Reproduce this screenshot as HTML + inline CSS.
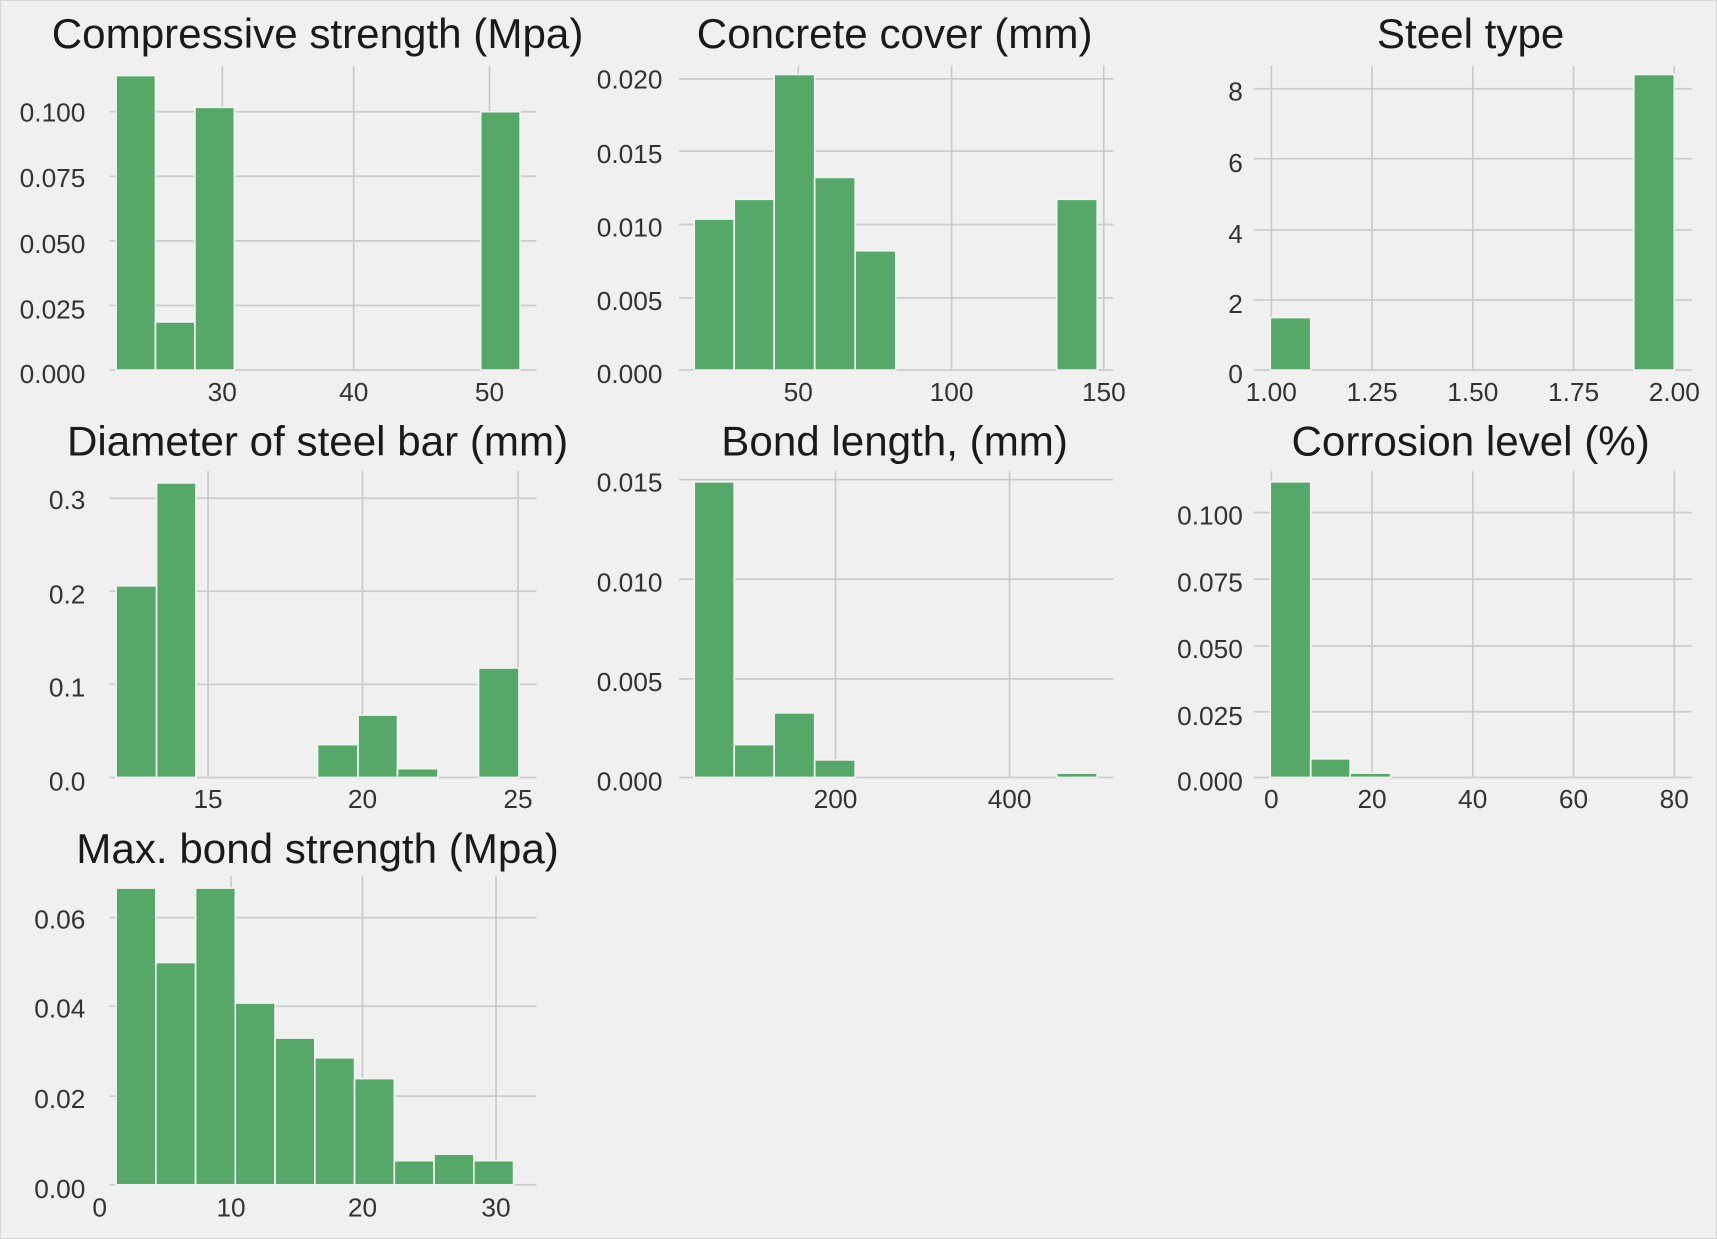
<!DOCTYPE html>
<html><head><meta charset="utf-8"><style>
html,body{margin:0;padding:0;background:#f0f0f0;}
svg{display:block}
text{font-family:"Liberation Sans",sans-serif;}
.t{font-size:38.5px;fill:#1a1a1a;text-anchor:middle}
.y{font-size:24px;fill:#333;text-anchor:end}
.x{font-size:24px;fill:#333;text-anchor:middle}
.g{stroke:#cbcbcb;stroke-width:1.6}
.b{fill:#55a868;stroke:#f4f4f4;stroke-width:1.5}
</style></head><body>
<svg width="1717" height="1239" viewBox="0 0 1568 1131.5" preserveAspectRatio="none">
<rect width="1568" height="1131.5" fill="#f0f0f0"/>
<rect x="0.5" y="0.5" width="1567" height="1130.5" fill="none" stroke="#d8d8d8" stroke-width="1"/>
<!-- Plot 1 -->
<g>
<line class="g" x1="100" x2="490" y1="338" y2="338"/><line class="g" x1="100" x2="490" y1="279" y2="279"/><line class="g" x1="100" x2="490" y1="220" y2="220"/><line class="g" x1="100" x2="490" y1="161" y2="161"/><line class="g" x1="100" x2="490" y1="102" y2="102"/>
<line class="g" x1="203" x2="203" y1="60" y2="338"/><line class="g" x1="323" x2="323" y1="60" y2="338"/><line class="g" x1="447" x2="447" y1="60" y2="338"/>
<rect class="b" x="106" y="69" width="36" height="269"/><rect class="b" x="142" y="294" width="36" height="44"/><rect class="b" x="178" y="98" width="36" height="240"/><rect class="b" x="439" y="102" width="36" height="236"/>
<text class="y" x="78" y="350">0.000</text><text class="y" x="78" y="291">0.025</text><text class="y" x="78" y="231">0.050</text><text class="y" x="78" y="171">0.075</text><text class="y" x="78" y="111">0.100</text>
<text class="x" x="203" y="366">30</text><text class="x" x="323" y="366">40</text><text class="x" x="447" y="366">50</text>
<text class="t" x="290" y="44">Compressive strength (Mpa)</text>
</g>
<!-- Plot 2 -->
<g>
<line class="g" x1="620" x2="1017" y1="338" y2="338"/><line class="g" x1="620" x2="1017" y1="272" y2="272"/><line class="g" x1="620" x2="1017" y1="205" y2="205"/><line class="g" x1="620" x2="1017" y1="138" y2="138"/><line class="g" x1="620" x2="1017" y1="72" y2="72"/>
<line class="g" x1="729" x2="729" y1="60" y2="338"/><line class="g" x1="869" x2="869" y1="60" y2="338"/><line class="g" x1="1008" x2="1008" y1="60" y2="338"/>
<rect class="b" x="634" y="200" width="36.5" height="138"/><rect class="b" x="670.5" y="182" width="36.5" height="156"/><rect class="b" x="707" y="68" width="37" height="270"/><rect class="b" x="744" y="162" width="37" height="176"/><rect class="b" x="781" y="229" width="37" height="109"/><rect class="b" x="965" y="182" width="37" height="156"/>
<text class="y" x="605" y="350">0.000</text><text class="y" x="605" y="283">0.005</text><text class="y" x="605" y="216">0.010</text><text class="y" x="605" y="149">0.015</text><text class="y" x="605" y="81">0.020</text>
<text class="x" x="729" y="366">50</text><text class="x" x="869" y="366">100</text><text class="x" x="1008" y="366">150</text>
<text class="t" x="817" y="44">Concrete cover (mm)</text>
</g>
<!-- Plot 3 -->
<g>
<line class="g" x1="1145" x2="1545" y1="338" y2="338"/><line class="g" x1="1145" x2="1545" y1="274" y2="274"/><line class="g" x1="1145" x2="1545" y1="210" y2="210"/><line class="g" x1="1145" x2="1545" y1="145" y2="145"/><line class="g" x1="1145" x2="1545" y1="81" y2="81"/>
<line class="g" x1="1161" x2="1161" y1="60" y2="338"/><line class="g" x1="1253" x2="1253" y1="60" y2="338"/><line class="g" x1="1345" x2="1345" y1="60" y2="338"/><line class="g" x1="1437" x2="1437" y1="60" y2="338"/><line class="g" x1="1529" x2="1529" y1="60" y2="338"/>
<rect class="b" x="1160" y="290" width="37" height="48"/><rect class="b" x="1492" y="68" width="37" height="270"/>
<text class="y" x="1135" y="350">0</text><text class="y" x="1135" y="286">2</text><text class="y" x="1135" y="222">4</text><text class="y" x="1135" y="157">6</text><text class="y" x="1135" y="92">8</text>
<text class="x" x="1161" y="366">1.00</text><text class="x" x="1253" y="366">1.25</text><text class="x" x="1345" y="366">1.50</text><text class="x" x="1437" y="366">1.75</text><text class="x" x="1529" y="366">2.00</text>
<text class="t" x="1343" y="44">Steel type</text>
</g>
<!-- Plot 4 -->
<g>
<line class="g" x1="100" x2="490" y1="710" y2="710"/><line class="g" x1="100" x2="490" y1="625" y2="625"/><line class="g" x1="100" x2="490" y1="540" y2="540"/><line class="g" x1="100" x2="490" y1="455" y2="455"/>
<line class="g" x1="190" x2="190" y1="430" y2="710"/><line class="g" x1="331" x2="331" y1="430" y2="710"/><line class="g" x1="473" x2="473" y1="430" y2="710"/>
<rect class="b" x="106" y="535" width="37" height="175"/><rect class="b" x="143" y="441" width="36" height="269"/><rect class="b" x="290" y="680" width="37" height="30"/><rect class="b" x="327" y="653" width="36" height="57"/><rect class="b" x="363" y="702" width="37" height="8"/><rect class="b" x="437" y="610" width="37" height="100"/>
<text class="y" x="78" y="722">0.0</text><text class="y" x="78" y="636">0.1</text><text class="y" x="78" y="551">0.2</text><text class="y" x="78" y="465">0.3</text>
<text class="x" x="190" y="738">15</text><text class="x" x="331" y="738">20</text><text class="x" x="473" y="738">25</text>
<text class="t" x="290" y="416">Diameter of steel bar (mm)</text>
</g>
<!-- Plot 5 -->
<g>
<line class="g" x1="620" x2="1017" y1="710" y2="710"/><line class="g" x1="620" x2="1017" y1="620" y2="620"/><line class="g" x1="620" x2="1017" y1="529" y2="529"/><line class="g" x1="620" x2="1017" y1="438" y2="438"/>
<line class="g" x1="763" x2="763" y1="430" y2="710"/><line class="g" x1="922" x2="922" y1="430" y2="710"/>
<rect class="b" x="634" y="440" width="36.5" height="270"/><rect class="b" x="670.5" y="680" width="36.5" height="30"/><rect class="b" x="707" y="651" width="37" height="59"/><rect class="b" x="744" y="694" width="37" height="16"/><rect class="b" x="965" y="706" width="37" height="4"/>
<text class="y" x="605" y="722">0.000</text><text class="y" x="605" y="631">0.005</text><text class="y" x="605" y="540">0.010</text><text class="y" x="605" y="449">0.015</text>
<text class="x" x="763" y="738">200</text><text class="x" x="922" y="738">400</text>
<text class="t" x="817" y="416">Bond length, (mm)</text>
</g>
<!-- Plot 6 -->
<g>
<line class="g" x1="1145" x2="1545" y1="710" y2="710"/><line class="g" x1="1145" x2="1545" y1="650" y2="650"/><line class="g" x1="1145" x2="1545" y1="590" y2="590"/><line class="g" x1="1145" x2="1545" y1="529" y2="529"/><line class="g" x1="1145" x2="1545" y1="468" y2="468"/>
<line class="g" x1="1161" x2="1161" y1="430" y2="710"/><line class="g" x1="1253" x2="1253" y1="430" y2="710"/><line class="g" x1="1345" x2="1345" y1="430" y2="710"/><line class="g" x1="1437" x2="1437" y1="430" y2="710"/><line class="g" x1="1529" x2="1529" y1="430" y2="710"/>
<rect class="b" x="1160" y="440" width="37" height="270"/><rect class="b" x="1197" y="693" width="36" height="17"/><rect class="b" x="1233" y="706" width="37" height="4"/>
<text class="y" x="1135" y="722">0.000</text><text class="y" x="1135" y="662">0.025</text><text class="y" x="1135" y="601">0.050</text><text class="y" x="1135" y="540">0.075</text><text class="y" x="1135" y="479">0.100</text>
<text class="x" x="1161" y="738">0</text><text class="x" x="1253" y="738">20</text><text class="x" x="1345" y="738">40</text><text class="x" x="1437" y="738">60</text><text class="x" x="1529" y="738">80</text>
<text class="t" x="1343" y="416">Corrosion level (%)</text>
</g>
<!-- Plot 7 -->
<g>
<line class="g" x1="100" x2="490" y1="1082" y2="1082"/><line class="g" x1="100" x2="490" y1="1001" y2="1001"/><line class="g" x1="100" x2="490" y1="919" y2="919"/><line class="g" x1="100" x2="490" y1="838" y2="838"/>
<line class="g" x1="211" x2="211" y1="800" y2="1082"/><line class="g" x1="331" x2="331" y1="800" y2="1082"/><line class="g" x1="453" x2="453" y1="800" y2="1082"/>
<rect class="b" x="106" y="811" width="36.3" height="271"/><rect class="b" x="142.3" y="879" width="36.3" height="203"/><rect class="b" x="178.6" y="811" width="36.3" height="271"/><rect class="b" x="214.9" y="916" width="36.3" height="166"/><rect class="b" x="251.2" y="948" width="36.3" height="134"/><rect class="b" x="287.5" y="966" width="36.3" height="116"/><rect class="b" x="323.8" y="985" width="36.3" height="97"/><rect class="b" x="360.1" y="1060" width="36.3" height="22"/><rect class="b" x="396.4" y="1054" width="36.3" height="28"/><rect class="b" x="432.7" y="1060" width="36.3" height="22"/>
<text class="y" x="78" y="1094">0.00</text><text class="y" x="78" y="1012">0.02</text><text class="y" x="78" y="929">0.04</text><text class="y" x="78" y="848">0.06</text>
<text class="x" x="91" y="1111">0</text><text class="x" x="211" y="1111">10</text><text class="x" x="331" y="1111">20</text><text class="x" x="453" y="1111">30</text>
<text class="t" x="290" y="788">Max. bond strength (Mpa)</text>
</g>
</svg>
</body></html>
